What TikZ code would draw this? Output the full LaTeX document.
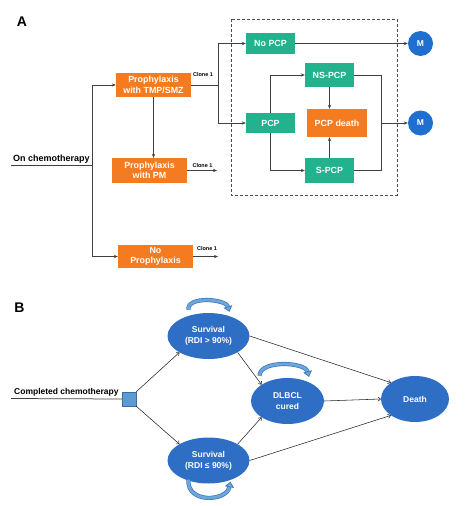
\documentclass[tikz,border=0pt]{standalone}
\usepackage{fontspec}
\setmainfont{Liberation Sans}
\usetikzlibrary{arrows.meta,shapes.geometric}
\definecolor{proorange}{HTML}{F47B20}
\definecolor{pcpgreen}{HTML}{22B28E}
\definecolor{mblue}{HTML}{1E6FCF}
\definecolor{stateblue}{HTML}{2E6EC5}
\definecolor{sqblue}{HTML}{5B9BD5}
\definecolor{loopblue}{HTML}{6BA6DC}
\definecolor{loopedge}{HTML}{3A76B6}
\definecolor{linegray}{HTML}{404040}

\begin{document}
\begin{tikzpicture}[x=1pt, y=-1pt,
    box/.style={rectangle, inner sep=0pt, align=center, text=white, font=\fontsize{8.9}{10.6}\selectfont\bfseries},
    probox/.style={box, fill=proorange, minimum width=75pt},
    pcpbox/.style={box, fill=pcpgreen, minimum width=49pt},
    mnode/.style={circle, fill=mblue, minimum size=25pt, inner sep=0pt, text=white, font=\fontsize{8.5}{10}\selectfont\bfseries},
    state/.style={ellipse, fill=stateblue, inner sep=0pt, minimum height=46pt, align=center, text=white, font=\fontsize{8.5}{10.6}\selectfont\bfseries},
    lbl/.style={inner sep=0pt, font=\fontsize{9}{11}\selectfont\bfseries},
    panel/.style={inner sep=0pt, font=\fontsize{14}{16}\selectfont\bfseries},
    clone/.style={inner sep=0pt, font=\fontsize{5.5}{6}\selectfont\bfseries},
    link/.style={draw=linegray, line width=0.75pt},
    arr/.style={link, -{Stealth[length=4pt,width=3.2pt]}},
    arrB/.style={draw=black!85, line width=0.55pt, -{To[length=3pt,width=4.5pt]}},
    loopar/.style={draw=loopedge, double=loopblue, double distance=2.8pt, line width=0.7pt, -{Triangle[length=5.5pt,width=9pt,fill=loopblue]}}]
    \useasboundingbox (0,0) rectangle (474,506);

    % panel A
    \node[panel] (labA) at (22,22) {A};
    \node[lbl, anchor=base west] (chemo) at (13,161) {On chemotherapy};
    \coordinate (startA) at (11,165.5);
    \coordinate (jA) at (92,165.5);
    \node[probox, minimum height=24pt] (tmp) at (153.5,85) {Prophylaxis\\with TMP/SMZ};
    \node[probox, minimum height=25pt] (pm) at (149.5,170.5) {Prophylaxis\\with PM};
    \node[probox, minimum height=23pt] (nopro) at (155.5,256.5) {No\\Prophylaxis};
    \node[clone] (clone1) at (203,75) {Clone 1};
    \node[clone] (clone2) at (202.5,166) {Clone 1};
    \node[clone] (clone3) at (207,249) {Clone 1};
    \coordinate (pmend) at (217,170.5);
    \coordinate (noproend) at (218,256.5);
    \coordinate (jB) at (218,85);
    \draw[dashed, draw=black!70, line width=0.6pt, dash pattern=on 3pt off 2pt] (231,19) rectangle (397,195);
    \node[pcpbox, minimum height=21pt] (nopcp) at (270.5,43.5) {No PCP};
    \node[pcpbox, minimum height=20pt] (pcp) at (270.5,123) {PCP};
    \node[pcpbox, minimum height=24pt] (nspcp) at (329.5,75) {NS-PCP};
    \node[pcpbox, minimum height=25pt] (spcp) at (329.5,170.5) {S-PCP};
    \node[box, fill=proorange, minimum width=60pt, minimum height=28pt] (pdeath) at (337,123) {PCP death};
    \node[mnode] (m1) at (420.5,43.5) {M};
    \node[mnode] (m2) at (420.5,123) {M};
    \coordinate (jC) at (381,123);

    \draw[link] (startA) -- (jA);
    \draw[arr] (jA) |- (tmp.west);
    \draw[arr] (jA) |- (nopro.west);
    \draw[arr] (tmp.south) -- (tmp.south |- pm.north);
    \draw[arr] (pm.east) -- (pmend);
    \draw[arr] (nopro.east) -- (noproend);
    \draw[link] (tmp.east) -- (jB);
    \draw[arr] (jB) |- (nopcp.west);
    \draw[arr] (jB) |- (pcp.west);
    \draw[arr] (nopcp.east) -- (m1.west);
    \draw[arr] (pcp.north) |- (nspcp.west);
    \draw[arr] (pcp.south) |- (spcp.west);
    \draw[arr] (nspcp.south) -- (nspcp.south |- pdeath.north);
    \draw[arr] (spcp.north) -- (spcp.north |- pdeath.south);
    \draw[link] (nspcp.east) -| (jC);
    \draw[link] (spcp.east) -| (jC);
    \draw[arr] (jC) -- (m2.west);

    % panel B
    \node[panel] (labB) at (19.5,307.5) {B};
    \node[lbl, font=\fontsize{8.5}{10}\selectfont\bfseries, anchor=base west] (done) at (14,394.5) {Completed chemotherapy};
    \coordinate (startB) at (11,398.5);
    \node[rectangle, fill=sqblue, draw=sqblue!70!black, line width=0.3pt, minimum size=14pt, inner sep=0pt] (sq) at (129,399) {};
    \node[state, minimum width=82pt] (sv1) at (208.5,336) {Survival\\(RDI > 90\%)};
    \node[state, minimum width=82pt] (sv2) at (208.5,460.5) {Survival\\(RDI ≤ 90\%)};
    \node[state, minimum width=73pt] (dl) at (287.5,401) {DLBCL\\cured};
    \node[state, minimum width=68pt] (dt) at (415,399) {Death};

    \draw[link] (startB) -- (sq.west);
    \draw[arrB] (sq.north east) -- (sv1.south west);
    \draw[arrB] (sq.south east) -- (sv2.north west);
    \draw[arrB] (sv1.south east) -- (dl.north west);
    \draw[arrB] (sv2.north east) -- (dl.south west);
    \draw[arrB] (sv1.east) -- (dt.north west);
    \draw[arrB] (sv2.east) -- (dt.south west);
    \draw[arrB] (dl.east) -- (dt.west);
    \draw[loopar] ([xshift=-20pt,yshift=3pt]sv1.north) .. controls +(-2,-14) and +(-4,-13) .. ([xshift=21pt,yshift=1pt]sv1.north);
    \draw[loopar] ([xshift=-28pt,yshift=2pt]dl.north) .. controls +(0,-16) and +(-4,-15) .. ([xshift=21.5pt,yshift=1pt]dl.north);
    \draw[loopar] ([xshift=-20pt,yshift=4pt]sv2.south) .. controls +(-2,24) and +(-4,20) .. ([xshift=22pt,yshift=2pt]sv2.south);
\end{tikzpicture}
\end{document}
